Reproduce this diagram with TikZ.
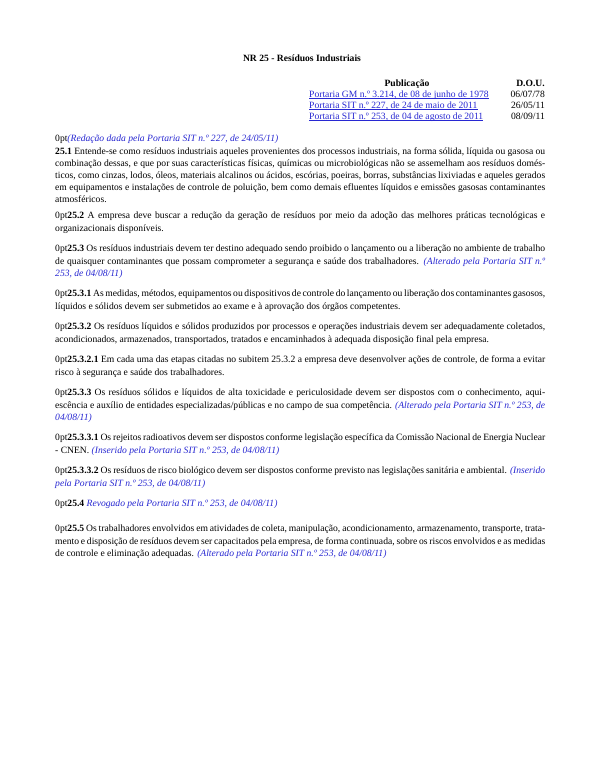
\documentclass[tikz,border=0pt]{standalone}
\usepackage{fontspec}
\setmainfont{Liberation Serif}
\definecolor{lnk}{RGB}{40,40,210}
\tikzset{para/.style={anchor=north west,inner sep=0pt,text width=490pt,align=justify,font=\fontsize{9.6}{12.2}\selectfont\hyphenpenalty=10000\emergencystretch=20pt},
 row/.style={anchor=base west,inner sep=0pt,font=\fontsize{9.6}{10}\selectfont},
 rowr/.style={anchor=base east,inner sep=0pt,font=\fontsize{9.6}{10}\selectfont},
 ul/.style={draw=lnk,line width=0.5pt}}
\newcommand{\nt}[1]{\textcolor{lnk}{\textit{#1}}}
\begin{document}
\begin{tikzpicture}[x=1pt,y=-1pt]
\useasboundingbox[fill=white] (0,0) rectangle (600,776);
\node[anchor=base,inner sep=0pt,font=\fontsize{9.6}{10}\selectfont\bfseries] (title) at (302,62) {NR 25 - Resíduos Industriais};
\node[anchor=base,inner sep=0pt,font=\fontsize{9.6}{10}\selectfont\bfseries] (pub) at (407,86) {Publicação};
\node[rowr,font=\fontsize{9.6}{10}\selectfont\bfseries] (dou) at (545,86) {D.O.U.};
\node[row,text=lnk] (l1) at (309,97) {Portaria GM n.º 3.214, de 08 de junho de 1978};
\node[row,text=lnk] (l2) at (309,108) {Portaria SIT n.º 227, de 24 de maio de 2011};
\node[row,text=lnk] (l3) at (309,119) {Portaria SIT n.º 253, de 04 de agosto de 2011};
\foreach \n in {l1,l2,l3} \draw[ul] ([yshift=0.6pt]\n.south west) -- ([yshift=0.6pt]\n.south east);
\node[rowr] (d1) at (545,97) {06/07/78};
\node[rowr] (d2) at (545,108) {26/05/11};
\node[rowr] (d3) at (545,119) {08/09/11};
\node[para] (red) at (55,135) {\nt{(Redação dada pela Portaria SIT n.º 227, de 24/05/11)}\\
\textbf{25.1} Entende-se como resíduos industriais aqueles provenientes dos processos industriais, na forma sólida, líquida ou gasosa ou combinação dessas, e que por suas características físicas, químicas ou microbiológicas não se assemelham aos resíduos domésticos, como cinzas, lodos, óleos, materiais alcalinos ou ácidos, escórias, poeiras, borras, substâncias lixiviadas e aqueles gerados em equipamentos e instalações de controle de poluição, bem como demais efluentes líquidos e emissões gasosas contaminantes atmosféricos.};
\node[para] (p2) at (55,212) {\textbf{25.2} A empresa deve buscar a redução da geração de resíduos por meio da adoção das melhores práticas tecnológicas e organizacionais disponíveis.};
\node[para] (p3) at (55,245) {\textbf{25.3} Os resíduos industriais devem ter destino adequado sendo proibido o lançamento ou a liberação no ambiente de trabalho de quaisquer contaminantes que possam comprometer a segurança e saúde dos trabalhadores. \nt{(Alterado pela Portaria SIT n.º 253, de 04/08/11)}};
\node[para] (p31) at (55,290) {\textbf{25.3.1} As medidas, métodos, equipamentos ou dispositivos de controle do lançamento ou liberação dos contaminantes gasosos, líquidos e sólidos devem ser submetidos ao exame e à aprovação dos órgãos competentes.};
\node[para] (p32) at (55,323) {\textbf{25.3.2} Os resíduos líquidos e sólidos produzidos por processos e operações industriais devem ser adequadamente coletados, acondicionados, armazenados, transportados, tratados e encaminhados à adequada disposição final pela empresa.};
\node[para] (p321) at (55,356) {\textbf{25.3.2.1} Em cada uma das etapas citadas no subitem 25.3.2 a empresa deve desenvolver ações de controle, de forma a evitar risco à segurança e saúde dos trabalhadores.};
\node[para] (p33) at (55,389) {\textbf{25.3.3} Os resíduos sólidos e líquidos de alta toxicidade e periculosidade devem ser dispostos com o conhecimento, aquiescência e auxílio de entidades especializadas/públicas e no campo de sua competência. \nt{(Alterado pela Portaria SIT n.º 253, de 04/08/11)}};
\node[para] (p331) at (55,434) {\textbf{25.3.3.1} Os rejeitos radioativos devem ser dispostos conforme legislação específica da Comissão Nacional de Energia Nuclear - CNEN. \nt{(Inserido pela Portaria SIT n.º 253, de 04/08/11)}};
\node[para] (p332) at (55,467) {\textbf{25.3.3.2} Os resíduos de risco biológico devem ser dispostos conforme previsto nas legislações sanitária e ambiental. \nt{(Inserido pela Portaria SIT n.º 253, de 04/08/11)}};
\node[para] (p4) at (55,500) {\textbf{25.4} \nt{Revogado pela Portaria SIT n.º 253, de 04/08/11)}};
\node[para] (p5) at (55,525) {\textbf{25.5} Os trabalhadores envolvidos em atividades de coleta, manipulação, acondicionamento, armazenamento, transporte, tratamento e disposição de resíduos devem ser capacitados pela empresa, de forma continuada, sobre os riscos envolvidos e as medidas de controle e eliminação adequadas. \nt{(Alterado pela Portaria SIT n.º 253, de 04/08/11)}};
\end{tikzpicture}
\end{document}
